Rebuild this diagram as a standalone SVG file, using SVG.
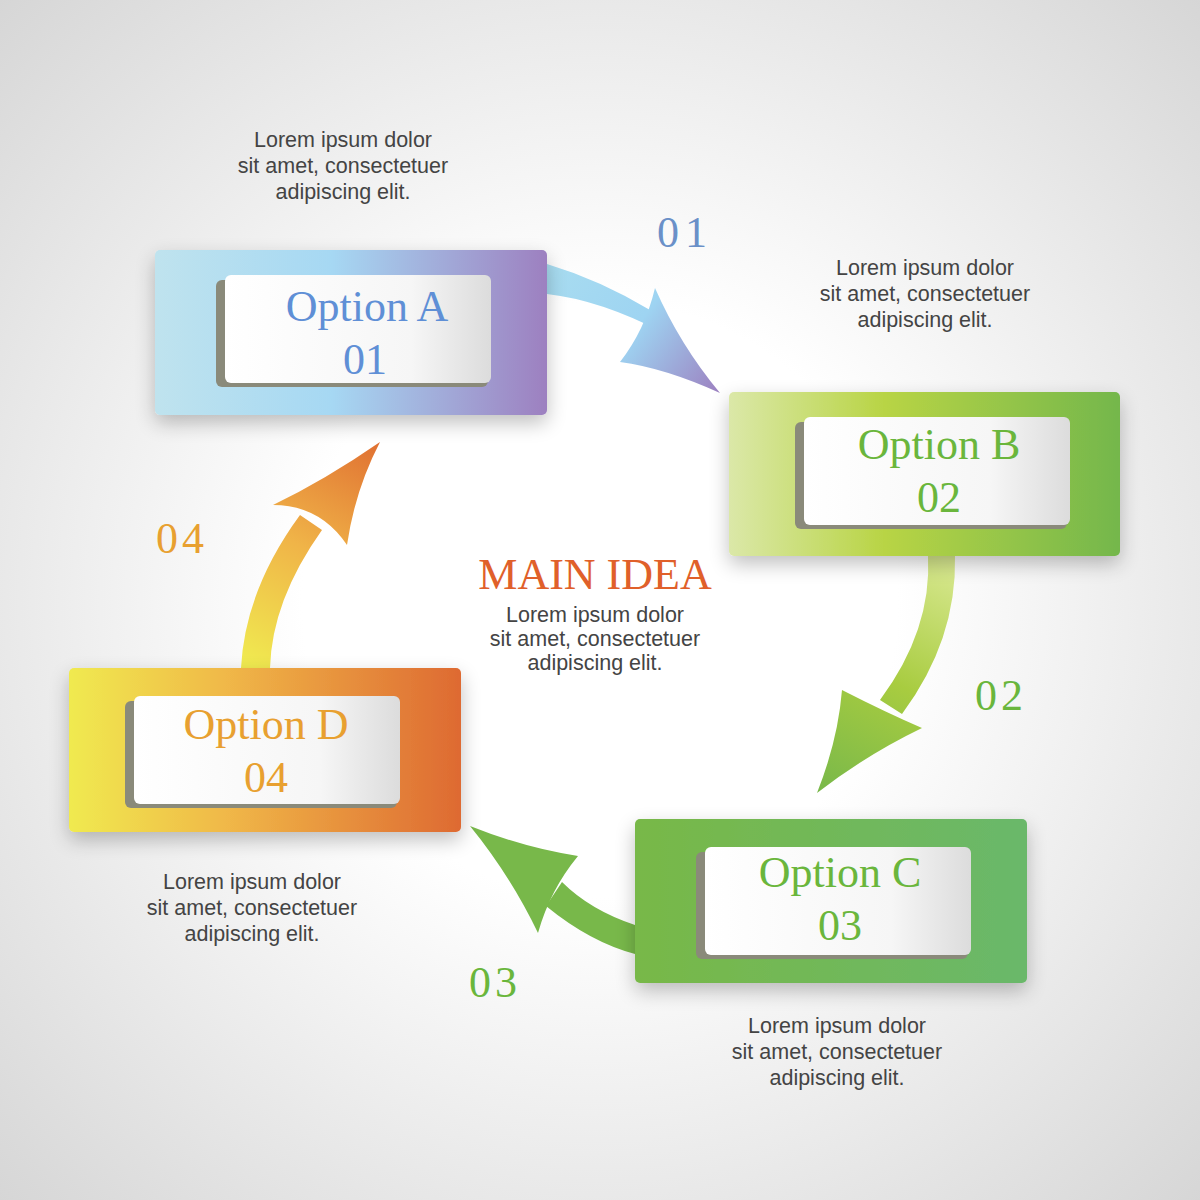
<svg xmlns="http://www.w3.org/2000/svg" width="1200" height="1200" viewBox="0 0 1200 1200">
<style>
.lbl{font-family:"Liberation Serif",serif;font-size:44px;text-anchor:middle}
.num{font-family:"Liberation Serif",serif;font-size:44px;text-anchor:middle}
.txt{font-family:"Liberation Sans",sans-serif;font-size:21.5px;fill:#444;text-anchor:middle}
.card{fill:url(#card)}
.cs{fill:#8a8a7a}
</style>
<defs>
<radialGradient id="bg" cx="600" cy="600" r="850" gradientUnits="userSpaceOnUse"><stop offset="0.35" stop-color="#fff"/><stop offset="1" stop-color="#d6d6d6"/></radialGradient>
<linearGradient id="card" x1="0" y1="0" x2="1" y2="0"><stop offset="0" stop-color="#fff"/><stop offset="0.7" stop-color="#f6f6f6"/><stop offset="1" stop-color="#dcdcdc"/></linearGradient>
<linearGradient id="gA" x1="155" y1="0" x2="547" y2="0" gradientUnits="userSpaceOnUse"><stop offset="0" stop-color="#bfe3ee"/><stop offset="0.45" stop-color="#a6d8f3"/><stop offset="1" stop-color="#9d80c0"/></linearGradient>
<linearGradient id="gB" x1="729" y1="0" x2="1120" y2="0" gradientUnits="userSpaceOnUse"><stop offset="0" stop-color="#dbe8a8"/><stop offset="0.4" stop-color="#b8d444"/><stop offset="1" stop-color="#74b74c"/></linearGradient>
<linearGradient id="gC" x1="635" y1="0" x2="1027" y2="0" gradientUnits="userSpaceOnUse"><stop offset="0" stop-color="#78b848"/><stop offset="1" stop-color="#6ab86a"/></linearGradient>
<linearGradient id="gD" x1="69" y1="0" x2="461" y2="0" gradientUnits="userSpaceOnUse"><stop offset="0" stop-color="#f0ea50"/><stop offset="0.4" stop-color="#f0b848"/><stop offset="1" stop-color="#de6a32"/></linearGradient>
<linearGradient id="a1" x1="547" y1="270" x2="720" y2="393" gradientUnits="userSpaceOnUse"><stop offset="0" stop-color="#a8dcf0"/><stop offset="0.5" stop-color="#9ed4f2"/><stop offset="1" stop-color="#9c80c0"/></linearGradient>
<linearGradient id="a2" x1="940" y1="556" x2="817" y2="793" gradientUnits="userSpaceOnUse"><stop offset="0" stop-color="#d8e890"/><stop offset="0.5" stop-color="#a8cc40"/><stop offset="1" stop-color="#78b84a"/></linearGradient>
<linearGradient id="a4" x1="255" y1="668" x2="380" y2="442" gradientUnits="userSpaceOnUse"><stop offset="0" stop-color="#f0ea50"/><stop offset="0.5" stop-color="#f0b448"/><stop offset="1" stop-color="#e07032"/></linearGradient>
<filter id="sh" x="-20%" y="-20%" width="140%" height="150%"><feGaussianBlur in="SourceAlpha" stdDeviation="10"/><feOffset dy="8"/><feComponentTransfer><feFuncA type="linear" slope="0.25"/></feComponentTransfer><feMerge><feMergeNode/><feMergeNode in="SourceGraphic"/></feMerge></filter>
</defs>
<rect width="1200" height="1200" fill="url(#bg)"/>
<g id="connectors">
<path d="M547,264 Q600,280 650,310 L662,332 Q600,300 547,294 Z" fill="url(#a1)"/><path d="M655,288 Q680,345 720,393 Q665,368 620,362 Q645,330 655,288 Z" fill="url(#a1)"/>
<path d="M928,556 Q932,630 880,700 L902,714 Q957,640 955,556 Z" fill="url(#a2)"/><path d="M842,690 Q885,712 922,728 Q866,755 817,793 Q838,740 842,690 Z" fill="url(#a2)"/>
<path d="M635,925 Q590,910 562,882 L546,906 Q590,942 635,954 Z" fill="#78b84a"/><path d="M578,856 Q550,890 538,933 Q510,875 470,826 Q525,848 578,856 Z" fill="#78b84a"/>
<path d="M241,668 Q245,590 300,515 L322,530 Q272,600 270,668 Z" fill="url(#a4)"/><path d="M273,505 Q320,505 347,545 Q355,490 380,442 Q325,480 273,505 Z" fill="url(#a4)"/>
</g>
<g id="nodeA"><rect x="155" y="250" width="392" height="165" rx="5" fill="url(#gA)" filter="url(#sh)"/><rect x="216" y="280" width="272" height="107" rx="6" class="cs"/><rect x="225" y="275" width="266" height="108" rx="6" class="card"/><text x="367" y="321" class="lbl" fill="#5f8fd6">Option A</text><text x="365" y="374" class="lbl" fill="#5f8fd6">01</text></g>
<g id="nodeB"><rect x="729" y="392" width="391" height="164" rx="5" fill="url(#gB)" filter="url(#sh)"/><rect x="795" y="422" width="272" height="107" rx="6" class="cs"/><rect x="804" y="417" width="266" height="108" rx="6" class="card"/><text x="939" y="459" class="lbl" fill="#6ab63c">Option B</text><text x="939" y="512" class="lbl" fill="#6ab63c">02</text></g>
<g id="nodeC"><rect x="635" y="819" width="392" height="164" rx="5" fill="url(#gC)" filter="url(#sh)"/><rect x="696" y="852" width="272" height="107" rx="6" class="cs"/><rect x="705" y="847" width="266" height="108" rx="6" class="card"/><text x="840" y="887" class="lbl" fill="#6ab63c">Option C</text><text x="840" y="940" class="lbl" fill="#6ab63c">03</text></g>
<g id="nodeD"><rect x="69" y="668" width="392" height="164" rx="5" fill="url(#gD)" filter="url(#sh)"/><rect x="125" y="701" width="272" height="107" rx="6" class="cs"/><rect x="134" y="696" width="266" height="108" rx="6" class="card"/><text x="266" y="739" class="lbl" fill="#e8a030">Option D</text><text x="266" y="792" class="lbl" fill="#e8a030">04</text></g>
<g id="labels">
<text x="685" y="247" class="num" fill="#6a90c8" letter-spacing="6">01</text>
<text x="1001" y="710" class="num" fill="#6ab63c" letter-spacing="4">02</text>
<text x="495" y="997" class="num" fill="#6ab63c" letter-spacing="4">03</text>
<text x="182" y="553" class="num" fill="#e8a030" letter-spacing="4">04</text>
<text x="595" y="589" class="lbl" fill="#e0602a" font-size="41">MAIN IDEA</text>
<text class="txt"><tspan x="343" y="147">Lorem ipsum dolor</tspan><tspan x="343" y="173">sit amet, consectetuer</tspan><tspan x="343" y="199">adipiscing elit.</tspan></text>
<text class="txt"><tspan x="925" y="275">Lorem ipsum dolor</tspan><tspan x="925" y="301">sit amet, consectetuer</tspan><tspan x="925" y="327">adipiscing elit.</tspan></text>
<text class="txt" font-size="20"><tspan x="595" y="622">Lorem ipsum dolor</tspan><tspan x="595" y="646">sit amet, consectetuer</tspan><tspan x="595" y="670">adipiscing elit.</tspan></text>
<text class="txt"><tspan x="252" y="889">Lorem ipsum dolor</tspan><tspan x="252" y="915">sit amet, consectetuer</tspan><tspan x="252" y="941">adipiscing elit.</tspan></text>
<text class="txt"><tspan x="837" y="1033">Lorem ipsum dolor</tspan><tspan x="837" y="1059">sit amet, consectetuer</tspan><tspan x="837" y="1085">adipiscing elit.</tspan></text>
</g>
</svg>
